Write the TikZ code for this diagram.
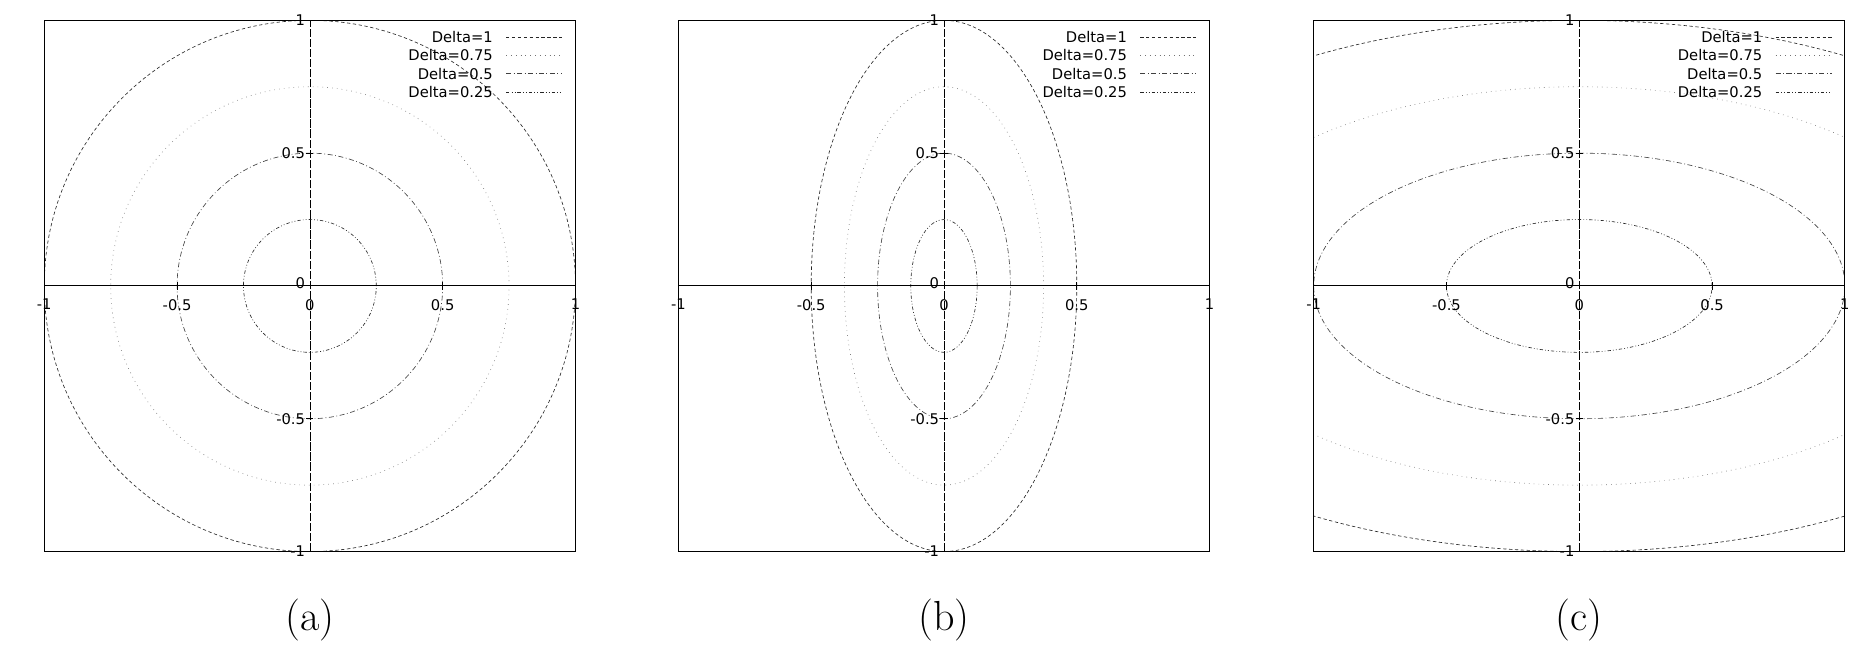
\documentclass[tikz,border=0pt]{standalone}
\usepackage{fontspec}
\newfontfamily\plotfont{DejaVu Sans}
\begin{document}
\begin{tikzpicture}[x=0.02cm,y=0.02cm,
  tk/.style={font=\plotfont\fontsize{7}{8}\selectfont,inner sep=1pt},
  captxt/.style={font=\fontsize{20}{22}\selectfont},
  dA/.style={line width=0.3pt,dash pattern=on 1.6pt off 1.2pt,black!85},
  dB/.style={line width=0.3pt,dotted,black!55},
  dC/.style={line width=0.3pt,dash pattern=on 2.4pt off 1.2pt on 0.4pt off 1.2pt,black!75},
  dD/.style={line width=0.3pt,dash pattern=on 1.6pt off 1pt on 0.4pt off 1pt on 0.4pt off 1pt,black!85}]
\useasboundingbox[fill=white] (0,0) rectangle (1568,-540);
\foreach \cx/\ax/\ay/\lab [count=\i] in {259/1/1/a, 789/0.5/1/b, 1320/2/1/c}{
  \begin{scope}[shift={(\cx,-239)}]
    \def\R{222}
    \begin{scope}
      \clip (-\R,-\R) rectangle (\R,\R);
      \draw[dA] (0,0) ellipse [x radius=\ax*\R, y radius=\ay*\R];
      \draw[dB] (0,0) ellipse [x radius=0.75*\ax*\R, y radius=0.75*\ay*\R];
      \draw[dC] (0,0) ellipse [x radius=0.5*\ax*\R, y radius=0.5*\ay*\R];
      \draw[dD] (0,0) ellipse [x radius=0.25*\ax*\R, y radius=0.25*\ay*\R];
    \end{scope}
    \draw[line width=0.45pt] (-\R,-\R) rectangle (\R,\R);
    \draw[line width=0.45pt] (-\R,0) -- (\R,0);
    \draw[line width=0.3pt,dash pattern=on 4pt off 0.8pt] (0,-\R) -- (0,\R);
    \foreach \t in {-0.5,0.5}{
      \draw[line width=0.4pt] (\t*\R,-3) -- (\t*\R,3);
      \draw[line width=0.4pt] (-3,\t*\R) -- (3,\t*\R);}
    \node[tk,anchor=east] (y1) at (-2,\R) {1};
    \node[tk,anchor=east] (y2) at (-2,0.5*\R) {0.5};
    \node[tk,anchor=east] (y0) at (-2,2) {0};
    \node[tk,anchor=east] (y3) at (-2,-0.5*\R) {-0.5};
    \node[tk,anchor=east] (y4) at (-2,-\R) {-1};
    \node[tk,anchor=north] (x1) at (-\R,-9) {-1};
    \node[tk,anchor=north] (x2) at (-0.5*\R,-9) {-0.5};
    \node[tk,anchor=north] (x0) at (0,-9) {0};
    \node[tk,anchor=north] (x3) at (0.5*\R,-9) {0.5};
    \node[tk,anchor=north] (x4) at (\R,-9) {1};
    \node[tk,anchor=east] (l1) at (\R-67,\R-14) {Delta=1};
    \node[tk,anchor=east] (l2) at (\R-67,\R-29) {Delta=0.75};
    \node[tk,anchor=east] (l3) at (\R-67,\R-44.5) {Delta=0.5};
    \node[tk,anchor=east] (l4) at (\R-67,\R-60) {Delta=0.25};
    \draw[dA] (\R-58,\R-14) -- (\R-11,\R-14);
    \draw[dB] (\R-58,\R-29) -- (\R-11,\R-29);
    \draw[dC] (\R-58,\R-44.5) -- (\R-11,\R-44.5);
    \draw[dD] (\R-58,\R-60) -- (\R-11,\R-60);
    \node[captxt] (c\i) at (0,-279) {(\lab)};
  \end{scope}}
\end{tikzpicture}
\end{document}
